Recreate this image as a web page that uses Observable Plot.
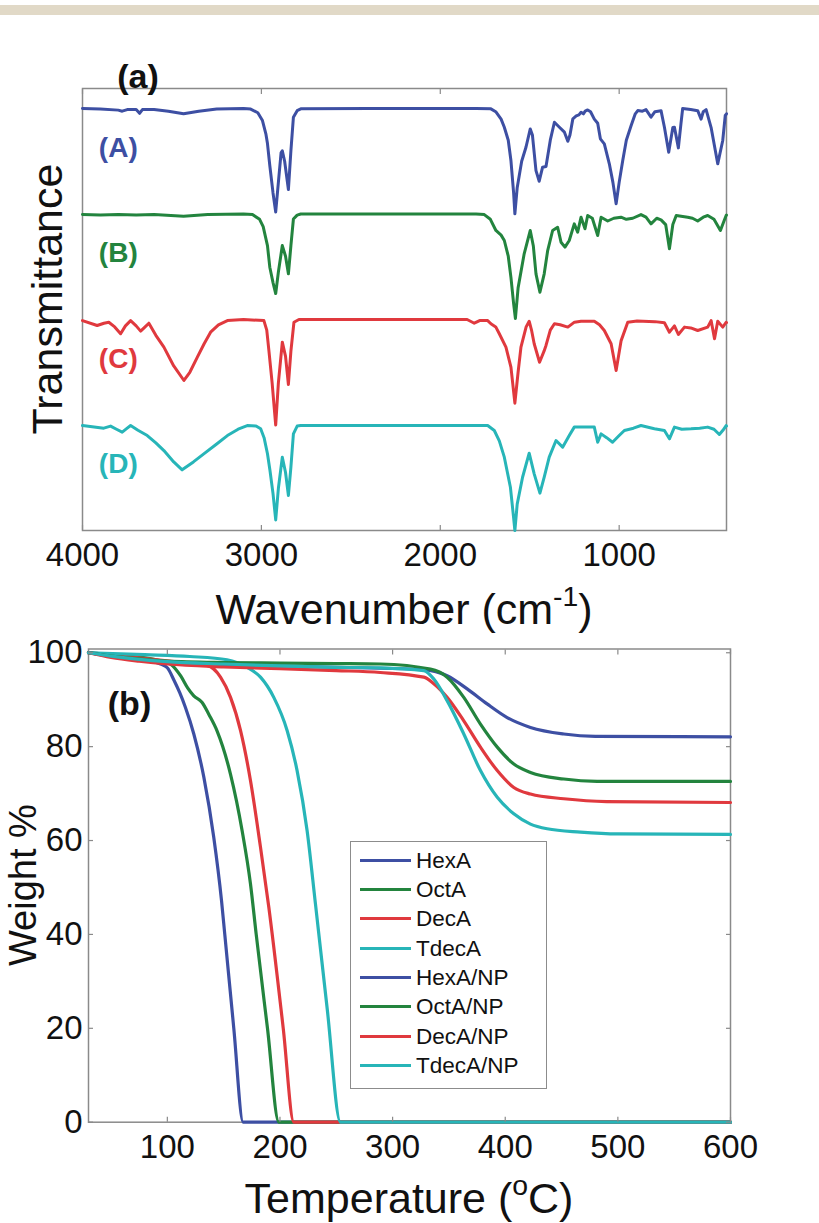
<!DOCTYPE html>
<html>
<head>
<meta charset="utf-8">
<script src="https://cdn.jsdelivr.net/npm/d3@7"></script>
<script src="https://cdn.jsdelivr.net/npm/@observablehq/plot@0.6"></script>
<style>
  html, body { margin: 0; padding: 0; background: #fff; }
  #fig { position: relative; width: 819px; height: 1223px; overflow: hidden; background: #fff;
         font-family: "Liberation Sans", Arial, Helvetica, sans-serif; color: #111; }
  #fig .panel { position: absolute; left: 0; }
  #fig svg { display: block; overflow: visible; }
  #band { position: absolute; left: 0; top: 5px; width: 819px; height: 10px; background: #e1d9c7; }
  .legend { position: absolute; left: 350px; top: 841px; width: 197px; height: 248px; box-sizing: border-box;
            border: 1.5px solid #8c8c8c; background: #fff; }
  .legend .row { position: absolute; left: 0; height: 0; }
  .legend .sw { position: absolute; left: 8.5px; width: 51px; height: 0; border-top: 3.5px solid; top: -1.75px; }
  .legend .lab { position: absolute; left: 65px; top: -12.8px; font-size: 22.5px; line-height: 26px; white-space: nowrap; color: #111; }
</style>
</head>
<body>
<div id="fig"></div>
<script>
// ---------- (a) FTIR spectra: [wavenumber (cm-1), normalised transmittance] ----------
const sampleLabels = ["(A)", "(B)", "(C)", "(D)"];
const sampleColors = ["#3d4fa3", "#23843e", "#e0393e", "#27b5b8"];
const spectrumOffsets = [3, 2, 1, 0];
const wavenumberTicks = [4000, 3000, 2000, 1000];

const spectrumA = [
  [4000, 1.0], [3900, 0.995], [3800, 0.985], [3778, 0.975], [3750, 0.99], [3700, 0.99], [3681, 0.955], [3665, 0.99],
  [3600, 0.99], [3520, 0.975], [3435, 0.95], [3350, 0.975], [3250, 0.995], [3100, 1.0], [3060, 0.995], [3020, 0.96],
  [2994, 0.886], [2975, 0.76], [2966, 0.668], [2953, 0.46], [2935, 0.2], [2920, 0.02], [2905, 0.3], [2890, 0.58],
  [2883, 0.6], [2870, 0.5], [2849, 0.232], [2835, 0.6], [2821, 0.918], [2800, 0.98], [2780, 0.997], [2400, 1.0],
  [1800, 1.0], [1717, 0.997], [1690, 0.97], [1660, 0.9], [1642, 0.823], [1620, 0.7], [1605, 0.507], [1590, 0.2],
  [1583, 0.002], [1570, 0.25], [1545, 0.5], [1521, 0.633], [1497, 0.807], [1485, 0.75], [1465, 0.412], [1447, 0.311],
  [1428, 0.444], [1409, 0.45], [1385, 0.7], [1362, 0.87], [1334, 0.823], [1306, 0.776], [1287, 0.69], [1275, 0.75],
  [1259, 0.902], [1240, 0.93], [1225, 0.94], [1213, 0.965], [1200, 0.95], [1190, 0.975], [1176, 0.987], [1160, 0.97],
  [1139, 0.9], [1120, 0.86], [1105, 0.713], [1083, 0.665], [1055, 0.476], [1035, 0.3], [1017, 0.097], [1000, 0.3],
  [980, 0.507], [960, 0.7], [933, 0.839], [910, 0.95], [896, 0.981], [870, 0.975], [850, 0.99], [822, 0.918],
  [800, 0.97], [766, 0.98], [747, 0.823], [723, 0.586], [700, 0.82], [691, 0.823], [669, 0.627], [655, 0.85],
  [645, 1.0], [600, 0.99], [561, 0.98], [542, 0.9], [530, 0.97], [514, 0.99], [486, 0.82], [449, 0.476],
  [421, 0.697], [407, 0.934], [400, 0.95]
];
const spectrumB = [
  [4000, 0.995], [3900, 0.99], [3800, 0.995], [3700, 0.99], [3600, 0.995], [3435, 0.98], [3300, 0.995], [3100, 1.0],
  [3050, 0.995], [3010, 0.95], [2990, 0.88], [2966, 0.701], [2953, 0.496], [2935, 0.35], [2920, 0.246], [2905, 0.45],
  [2883, 0.701], [2865, 0.6], [2849, 0.433], [2835, 0.7], [2821, 0.953], [2800, 0.99], [2780, 1.0], [1800, 1.0],
  [1754, 0.995], [1720, 0.95], [1689, 0.844], [1660, 0.8], [1642, 0.749], [1620, 0.6], [1605, 0.4], [1590, 0.15],
  [1580, 0.01], [1565, 0.3], [1531, 0.623], [1497, 0.844], [1480, 0.7], [1465, 0.433], [1443, 0.259], [1419, 0.433],
  [1400, 0.65], [1372, 0.844], [1344, 0.875], [1325, 0.733], [1303, 0.686], [1279, 0.749], [1251, 0.907], [1232, 0.828],
  [1213, 0.97], [1191, 0.86], [1176, 0.986], [1150, 0.96], [1120, 0.796], [1101, 0.97], [1064, 0.934], [1030, 0.96],
  [990, 0.97], [960, 0.95], [924, 0.96], [878, 0.995], [850, 0.97], [822, 0.907], [790, 0.96], [766, 0.945],
  [740, 0.9], [719, 0.671], [700, 0.9], [681, 0.986], [617, 0.97], [590, 0.96], [561, 0.934], [530, 0.97],
  [505, 0.986], [470, 0.95], [434, 0.844], [415, 0.93], [402, 0.986], [400, 0.99]
];
const spectrumC = [
  [4000, 0.99], [3918, 0.943], [3880, 0.965], [3853, 0.974], [3820, 0.93], [3787, 0.865], [3760, 0.94], [3731, 0.99],
  [3700, 0.94], [3675, 0.89], [3650, 0.93], [3629, 0.965], [3590, 0.85], [3545, 0.738], [3490, 0.56], [3433, 0.422],
  [3400, 0.5], [3358, 0.643], [3320, 0.77], [3284, 0.88], [3240, 0.95], [3190, 0.99], [3100, 1.0], [2986, 0.99],
  [2970, 0.9], [2958, 0.706], [2940, 0.4], [2920, 0.0], [2905, 0.4], [2883, 0.785], [2865, 0.65], [2849, 0.384],
  [2835, 0.7], [2818, 0.974], [2790, 1.0], [1850, 1.0], [1810, 0.965], [1780, 0.99], [1735, 0.99], [1717, 0.96],
  [1690, 0.93], [1670, 0.865], [1633, 0.738], [1605, 0.548], [1583, 0.207], [1565, 0.5], [1549, 0.738], [1520, 0.93],
  [1503, 0.984], [1490, 0.9], [1475, 0.77], [1445, 0.595], [1420, 0.7], [1409, 0.754], [1385, 0.9], [1362, 0.96],
  [1330, 0.95], [1287, 0.928], [1250, 0.975], [1213, 0.984], [1139, 0.984], [1110, 0.95], [1083, 0.896], [1045, 0.77],
  [1017, 0.517], [989, 0.8], [952, 0.974], [900, 0.985], [800, 0.98], [747, 0.97], [719, 0.88], [691, 0.94],
  [669, 0.858], [635, 0.928], [600, 0.92], [561, 0.896], [505, 0.928], [486, 0.99], [467, 0.817], [449, 0.984],
  [421, 0.928], [402, 0.974], [400, 0.97]
];
const spectrumD = [
  [4000, 0.995], [3881, 0.97], [3843, 0.99], [3810, 0.96], [3778, 0.932], [3750, 0.97], [3731, 0.995], [3690, 0.95],
  [3638, 0.9], [3590, 0.83], [3545, 0.758], [3490, 0.65], [3443, 0.575], [3380, 0.65], [3322, 0.727], [3250, 0.82],
  [3190, 0.9], [3130, 0.96], [3079, 0.995], [3030, 0.99], [3004, 0.964], [2985, 0.88], [2966, 0.727], [2952, 0.569],
  [2935, 0.35], [2920, 0.1], [2905, 0.4], [2883, 0.695], [2865, 0.55], [2849, 0.332], [2835, 0.6], [2821, 0.916],
  [2800, 0.99], [2780, 0.995], [1800, 0.995], [1735, 0.995], [1698, 0.948], [1670, 0.85], [1642, 0.695], [1608, 0.41],
  [1590, 0.12], [1583, 0.0], [1570, 0.25], [1540, 0.505], [1503, 0.733], [1475, 0.537], [1443, 0.354], [1419, 0.505],
  [1391, 0.695], [1353, 0.853], [1316, 0.79], [1279, 0.9], [1251, 0.98], [1176, 0.98], [1139, 0.98], [1120, 0.837],
  [1101, 0.916], [1070, 0.88], [1037, 0.837], [1000, 0.9], [971, 0.948], [920, 0.97], [878, 0.995], [803, 0.964],
  [747, 0.948], [719, 0.869], [691, 0.98], [650, 0.96], [598, 0.964], [550, 0.97], [505, 0.98], [470, 0.96],
  [440, 0.91], [420, 0.95], [402, 0.995], [400, 0.99]
];
const spectra = [spectrumA, spectrumB, spectrumC, spectrumD];

// ---------- (b) TGA curves: [temperature (°C), weight %] ----------
const tgaSeries = ["HexA", "OctA", "DecA", "TdecA", "HexA/NP", "OctA/NP", "DecA/NP", "TdecA/NP"];
const ligands = ["HexA", "OctA", "DecA", "TdecA"];
const ligandColors = ["#3d4fa3", "#23843e", "#e0393e", "#27b5b8"];
const temperatureTicks = [100, 200, 300, 400, 500, 600];
const weightTicks = [0, 20, 40, 60, 80, 100];

const hexA = [[30, 100], [50, 99.6], [70, 99.0], [85, 98.3], [94, 97.6], [100, 96.8], [106, 94.1], [111, 91.5],
  [116, 88.4], [123.5, 82.7], [132.4, 73.5], [141.2, 60.7], [148.1, 47.2], [151, 40], [159, 20], [167.3, 0], [600, 0]];
const octA = [[30, 100], [60, 99.4], [90, 98.5], [102.8, 97.6], [112, 95], [118, 92.5], [123.5, 90.8], [130.9, 89.4],
  [137, 86.8], [144.2, 83.3], [156.1, 74.1], [166.4, 62.1], [173.8, 50.8], [178.9, 40], [188.9, 20], [199, 0], [600, 0]];
const decA = [[30, 100], [70, 99], [110, 98], [135.4, 97.3], [147.2, 94.8], [156.1, 90.5], [165, 83.4], [173.8, 72.8],
  [182.7, 58.6], [190.1, 45.8], [202.9, 20], [212.3, 0], [600, 0]];
const tdecA = [[30, 100], [80, 99.6], [120, 99.2], [153, 98.5], [170.8, 96.9], [182.7, 94.8], [194.5, 90.5], [206.4, 83.4],
  [215.2, 74.9], [224.1, 62.1], [231.5, 46.5], [242, 24], [253.7, 0], [600, 0]];
const hexANP = [[30, 100], [50, 99.2], [75, 98.4], [100, 97.9], [150, 97.5], [200, 97.2], [250, 96.9], [290, 96.7],
  [327.7, 96.4], [348.4, 95.1], [366.2, 92.3], [383.9, 89.1], [401.7, 86.2], [422.4, 84.1], [452, 82.7], [480, 82.2], [600, 82.1]];
const octANP = [[30, 100], [50, 99.3], [75, 98.7], [100, 98.2], [150, 97.9], [200, 97.8], [250, 97.7], [289, 97.6],
  [333.6, 96.5], [348.4, 94.8], [363.2, 90.5], [378, 84.8], [392.9, 79.9], [407.6, 76.3], [422.4, 74.5], [452, 73.1],
  [481.6, 72.6], [600, 72.6]];
const decANP = [[30, 100], [50, 99], [75, 98.2], [100, 97.6], [150, 97.0], [200, 96.6], [250, 96.2], [289, 95.8],
  [327.7, 94.8], [336.6, 93.4], [348.4, 90.5], [363.2, 85.5], [378, 79.9], [392.9, 74.9], [407.6, 71.3], [422.4, 69.9],
  [452, 68.9], [490, 68.3], [600, 68.1]];
const tdecANP = [[30, 100], [50, 99.3], [75, 98.6], [100, 98.1], [150, 97.6], [200, 97.2], [250, 96.9], [289, 96.8],
  [327.7, 96.2], [336.6, 94.4], [348.4, 89.8], [363.2, 82.7], [378, 74.9], [392.9, 69.2], [407.6, 65.7], [422.4, 63.5],
  [437.2, 62.5], [466.8, 61.8], [500, 61.4], [600, 61.3]];
const tgaCurves = [hexA, octA, decA, tdecA, hexANP, octANP, decANP, tdecANP];

// ---------- shared styling ----------
const FONT = '"Liberation Sans", Arial, Helvetica, sans-serif';
const INK = "#111";
const FRAME = "#8a8a8a";
const plainNumber = d3.format("d");
const fig = d3.select("#fig");

function panel(top, chart) {
  fig.append("div").attr("class", "panel").style("top", `${top}px`).node().appendChild(chart);
  return chart;
}

// Axis title drawn with optional superscript parts: [[text, isSuperscript], ...]
function axisTitle(svg, {x, y, rotate = 0, size, parts}) {
  const t = d3.select(svg).append("text")
    .attr("transform", `translate(${x},${y}) rotate(${rotate})`)
    .attr("text-anchor", "middle")
    .attr("font-family", FONT)
    .attr("font-size", size)
    .attr("fill", INK);
  let raised = false;
  for (const [s, sup] of parts) {
    const sp = t.append("tspan").text(s);
    if (sup && !raised) { sp.attr("font-size", size * 0.66).attr("dy", -size * 0.42); raised = true; }
    else if (!sup && raised) { sp.attr("dy", size * 0.42); raised = false; }
  }
}

// Inward MATLAB-style ticks on both sides plus outer tick labels
function xAxes(ticks) {
  return [
    Plot.axisX(ticks, {anchor: "bottom", tickSize: 5, dy: -5, stroke: FRAME, strokeWidth: 1.2, fill: "none", label: null}),
    Plot.axisX(ticks, {anchor: "top", tickSize: 5, dy: 5, stroke: FRAME, strokeWidth: 1.2, fill: "none", label: null}),
    Plot.axisX(ticks, {anchor: "bottom", tickSize: 0, tickPadding: 12, fontSize: 33, fill: INK, label: null,
      tickFormat: plainNumber})
  ];
}

// ---------- (a) FTIR ----------
const ftirRows = spectra.flatMap((pts, i) =>
  pts.map(([wn, t]) => ({sample: sampleLabels[i], wn, y: t + spectrumOffsets[i]})));

const ftir = panel(0, Plot.plot({
  width: 819, height: 642,
  marginTop: 88, marginBottom: 112, marginLeft: 82, marginRight: 93,
  style: {fontFamily: FONT, fontSize: "33px", color: INK, background: "transparent", overflow: "visible"},
  x: {domain: [4000, 400]},
  y: {domain: [0, 4.19], axis: null},
  color: {domain: sampleLabels, range: sampleColors},
  marks: [
    Plot.frame({stroke: FRAME, strokeWidth: 1.5}),
    Plot.line(ftirRows, {x: "wn", y: "y", z: "sample", stroke: "sample", strokeWidth: 3, strokeLinejoin: "round"}),
    Plot.text(sampleLabels.map((s, i) => ({s, y: spectrumOffsets[i] + 0.63})), {
      x: () => 3800, y: "y", text: "s", fill: "s",
      fontSize: 28, fontWeight: "bold", textAnchor: "middle", lineAnchor: "middle"
    }),
    Plot.text(["(a)"], {frameAnchor: "top-left", dx: 55.5, dy: -11, fontSize: 34, fontWeight: "bold",
      fill: INK, textAnchor: "middle", lineAnchor: "middle"}),
    ...xAxes(wavenumberTicks)
  ]
}));
{
  const [x0, x1] = ftir.scale("x").range;
  const [y0, y1] = ftir.scale("y").range;
  axisTitle(ftir, {x: 62, y: (y0 + y1) / 2 - 10, rotate: -90, size: 43, parts: [["Transmittance", false]]});
  axisTitle(ftir, {x: (x0 + x1) / 2, y: Math.max(y0, y1) + 94, size: 43,
    parts: [["Wavenumber (cm", false], ["-1", true], [")", false]]});
}

// ---------- (b) TGA ----------
const tgaRows = tgaCurves.flatMap((pts, i) => pts.map(([temp, w]) => ({series: tgaSeries[i], temp, w})));
const colorOf = (name) => ligandColors[ligands.indexOf(name.split("/")[0])];

const tga = panel(642, Plot.plot({
  width: 819, height: 581,
  marginTop: 6.5, marginBottom: 101.3, marginLeft: 88, marginRight: 89,
  style: {fontFamily: FONT, fontSize: "33px", color: INK, background: "transparent", overflow: "visible"},
  x: {domain: [30, 600]},
  y: {domain: [0, 100.8]},
  color: {domain: tgaSeries, range: tgaSeries.map(colorOf)},
  marks: [
    Plot.frame({stroke: FRAME, strokeWidth: 1.5}),
    Plot.line(tgaRows, {x: "temp", y: "w", z: "series", stroke: "series", strokeWidth: 3.2, curve: "monotone-x"}),
    Plot.text(["(b)"], {frameAnchor: "top-left", dx: 41, dy: 55.5, fontSize: 34, fontWeight: "bold",
      fill: INK, textAnchor: "middle", lineAnchor: "middle"}),
    ...xAxes(temperatureTicks),
    Plot.axisY(weightTicks, {anchor: "left", tickSize: 5, dx: 5, stroke: FRAME, strokeWidth: 1.2, fill: "none", label: null}),
    Plot.axisY(weightTicks, {anchor: "right", tickSize: 5, dx: -5, stroke: FRAME, strokeWidth: 1.2, fill: "none", label: null}),
    Plot.axisY(weightTicks, {anchor: "left", tickSize: 0, tickPadding: 6, fontSize: 33, fill: INK, label: null,
      tickFormat: plainNumber})
  ]
}));
{
  const [x0, x1] = tga.scale("x").range;
  const [y0, y1] = tga.scale("y").range;
  axisTitle(tga, {x: 36, y: (y0 + y1) / 2, rotate: -90, size: 38, parts: [["Weight %", false]]});
  axisTitle(tga, {x: (x0 + x1) / 2, y: Math.max(y0, y1) + 91, size: 43,
    parts: [["Temperature (", false], ["o", true], ["C)", false]]});
}

// Legend inside the TGA frame
const legend = fig.append("div").attr("class", "legend");
tgaSeries.forEach((name, i) => {
  const row = legend.append("div").attr("class", "row").style("top", `${18.5 + i * 29.3}px`);
  row.append("div").attr("class", "sw").style("border-top-color", colorOf(name));
  row.append("div").attr("class", "lab").text(name);
});

// Page-top strip
fig.append("div").attr("id", "band");
</script>
</body>
</html>
